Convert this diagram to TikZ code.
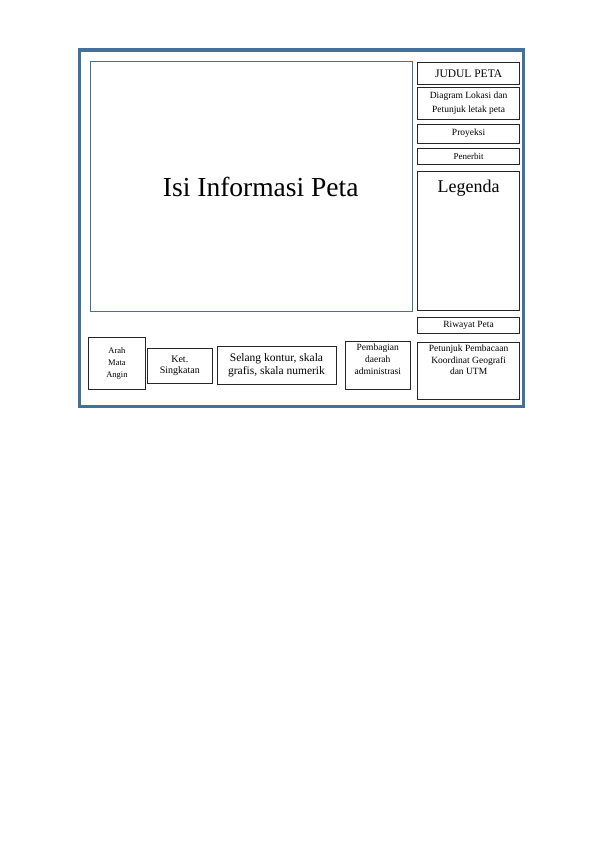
\documentclass[tikz,border=0pt]{standalone}
\usepackage{fontspec}
\setmainfont{Liberation Serif}
\usetikzlibrary{positioning}
\definecolor{bingkai}{RGB}{65,113,156}
\newcommand\ukuran[2]{\fontsize{#1}{#2}\selectfont}
\tikzstyle{kotak} = [rectangle, draw=black!85, line width=0.6pt, inner sep=0pt, text centered, align=center]
\tikzstyle{kolom} = [kotak, minimum width=102pt]
\tikzstyle{teks} = [inner sep=0pt, align=center]
\tikzstyle{bingkailuar} = [draw=bingkai, line width=3.2pt]
\tikzstyle{bingkaipeta} = [rectangle, draw=bingkai, line width=1pt, inner sep=0pt]

\begin{document}
\begin{tikzpicture}[x=1pt, y=-1pt]
			\useasboundingbox (0,0) rectangle (595,842);
			\draw [bingkailuar] (79.5,50) rectangle (523.5,406.5);
			
			\node (peta) [bingkaipeta, minimum width=321.5pt, minimum height=249.5pt, anchor=north west] at (90,61.5) {};
			\node (isi) [teks, xshift=9.5pt, font=\ukuran{27.5}{30}] at (peta.center) {Isi Informasi Peta};
			
			\node (judul) [kolom, minimum height=22pt, anchor=north west, font=\ukuran{11.5}{13}] at (417.3,62) {JUDUL PETA};
			\node (diagram) [kolom, minimum height=32pt, below=2.7pt of judul, font=\ukuran{9.5}{14}] {Diagram Lokasi dan\\Petunjuk letak peta};
			\node (proyeksi) [kolom, minimum height=19pt, below=3.7pt of diagram, font=\ukuran{9.5}{11}] {Proyeksi};
			\node (penerbit) [kolom, minimum height=16pt, below=4.7pt of proyeksi, font=\ukuran{9}{10}] {Penerbit};
			\node (legenda) [kolom, minimum height=139.5pt, below=6.2pt of penerbit] {};
			\node (legendateks) [teks, below=9pt of legenda.north, font=\ukuran{18}{20}] {Legenda};
			\node (riwayat) [kolom, minimum height=16.3pt, below=6.2pt of legenda, font=\ukuran{9.5}{11}] {Riwayat Peta};
			\node (petunjuk) [kolom, minimum height=57pt, below=7.8pt of riwayat] {};
			\node (petunjukteks) [teks, below=3pt of petunjuk.north, font=\ukuran{9.5}{11.7}] {Petunjuk Pembacaan\\Koordinat Geografi\\dan UTM};
			
			\node (arah) [kotak, minimum width=56.7pt, minimum height=52pt, anchor=north west, font=\ukuran{8.5}{12}] at (88.3,337.3) {Arah\\Mata\\Angin};
			\node (ket) [kotak, minimum width=64.4pt, minimum height=34.4pt, anchor=north west, font=\ukuran{10}{11.6}] at (147.3,348.3) {Ket.\\Singkatan};
			\node (selang) [kotak, minimum width=119pt, minimum height=38.3pt, anchor=north west, font=\ukuran{11.5}{13}] at (216.7,346) {Selang kontur, skala\\grafis, skala numerik};
			\node (pembagian) [kotak, minimum width=65pt, minimum height=48.6pt, anchor=north west] at (345,340.7) {};
			\node (pembagianteks) [teks, below=3.5pt of pembagian.north, font=\ukuran{9.5}{11.7}] {Pembagian\\daerah\\administrasi};
\end{tikzpicture}
\end{document}
